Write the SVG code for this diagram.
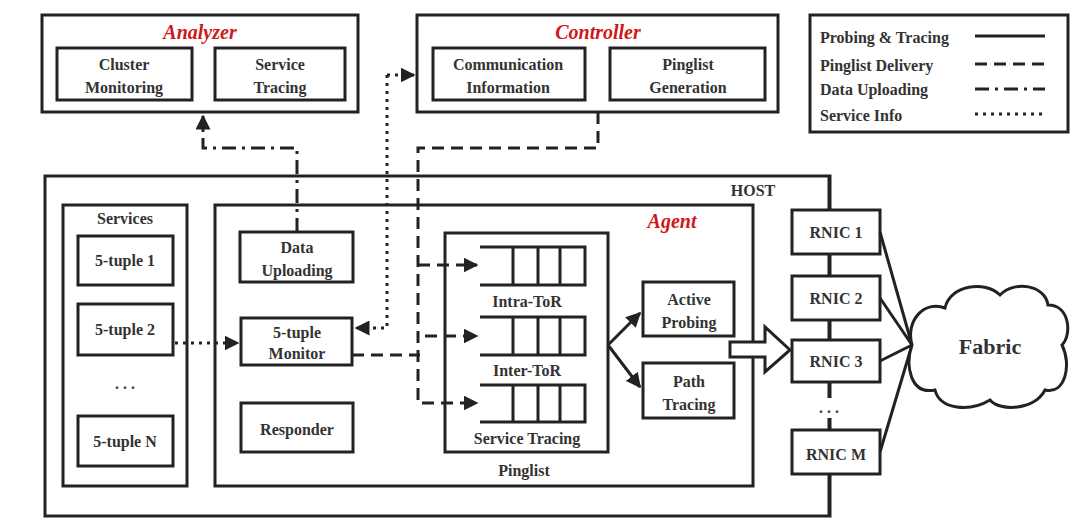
<svg xmlns="http://www.w3.org/2000/svg" width="1080" height="532" viewBox="0 0 1080 532">
<style>
text{font-family:"Liberation Serif",serif;font-weight:bold;fill:#333;text-anchor:middle;font-size:16px}
.t{fill:#d01818;font-style:italic;font-size:20px}
.b{fill:none;stroke:#222;stroke-width:3}
.w{fill:#fff}
.s{fill:none;stroke:#222;stroke-width:3}
.da{stroke-dasharray:12,7}
.dd{stroke-dasharray:14,6,3,6}
.dt{stroke-dasharray:3,5}
.lg{text-anchor:start}
</style>
<defs>
<marker id="a" viewBox="0 0 10 10" refX="9" refY="5" markerWidth="5" markerHeight="5" orient="auto"><path d="M0,0L10,5L0,10z" fill="#222"/></marker>
</defs>
<rect width="1080" height="532" fill="#fff"/>
<g id="analyzer"><rect class="b" x="42" y="15" width="316" height="97"/><text class="t" x="200" y="39">Analyzer</text>
<rect class="b" x="57" y="48" width="135" height="52"/><text x="124" y="70">Cluster</text><text x="124" y="93">Monitoring</text>
<rect class="b" x="215" y="48" width="130" height="52"/><text x="280" y="70">Service</text><text x="280" y="93">Tracing</text></g>
<g id="controller"><rect class="b" x="417" y="15" width="361" height="97"/><text class="t" x="598" y="39">Controller</text>
<rect class="b" x="433" y="48" width="152" height="52"/><text x="508" y="70">Communication</text><text x="508" y="93">Information</text>
<rect class="b" x="610" y="48" width="155" height="52"/><text x="688" y="70">Pinglist</text><text x="688" y="93">Generation</text></g>
<g id="legend"><rect class="b" x="810" y="15" width="258" height="117"/>
<text class="lg" x="820" y="43">Probing &amp; Tracing</text><text class="lg" x="820" y="71">Pinglist Delivery</text><text class="lg" x="820" y="95">Data Uploading</text><text class="lg" x="820" y="121">Service Info</text>
<line class="s" x1="975" y1="36" x2="1045" y2="36"/><line class="s da" x1="975" y1="64" x2="1045" y2="64"/><line class="s dd" x1="975" y1="89" x2="1045" y2="89"/><line class="s dt" x1="975" y1="114" x2="1045" y2="114"/></g>
<g id="host"><rect class="b" x="45" y="176" width="785" height="340"/><text x="753" y="196">HOST</text></g>
<g id="services"><rect class="b" x="63" y="205" width="124" height="281"/><text x="125" y="224">Services</text>
<rect class="b" x="78" y="236" width="95" height="49"/><text x="125" y="266">5-tuple 1</text>
<rect class="b" x="78" y="304" width="95" height="51"/><text x="125" y="335">5-tuple 2</text>
<text x="125" y="389">. . .</text>
<rect class="b" x="78" y="416" width="95" height="50"/><text x="125" y="447">5-tuple N</text></g>
<g id="agent"><rect class="b" x="215" y="205" width="538" height="281"/><text class="t" x="672" y="228">Agent</text>
<rect class="b" x="240" y="232" width="113" height="50"/><text x="297" y="253">Data</text><text x="297" y="276">Uploading</text>
<rect class="b" x="241" y="318" width="111" height="47"/><text x="297" y="338">5-tuple</text><text x="297" y="359">Monitor</text>
<rect class="b" x="241" y="403" width="112" height="49"/><text x="297" y="435">Responder</text></g>
<g id="pinglist"><rect class="b" x="445" y="233" width="163" height="219"/><text x="524" y="476">Pinglist</text>
<path class="s" d="M480,247H585V285H480M513,247V285M538,247V285M560,247V285"/><text x="527" y="307">Intra-ToR</text>
<path class="s" d="M480,317H585V355H480M513,317V355M538,317V355M560,317V355"/><text x="527" y="376">Inter-ToR</text>
<path class="s" d="M480,385H585V422H480M513,385V422M538,385V422M560,385V422"/><text x="527" y="444">Service Tracing</text></g>
<g id="active"><rect class="b" x="643" y="282" width="91" height="54"/><text x="689" y="305">Active</text><text x="689" y="328">Probing</text></g>
<g id="path"><rect class="b" x="643" y="363" width="91" height="55"/><text x="689" y="387">Path</text><text x="689" y="410">Tracing</text></g>
<g id="rnics"><line class="s" x1="829" y1="177" x2="829" y2="515"/>
<rect class="b w" x="792" y="210" width="88" height="44"/><text x="836" y="238">RNIC 1</text>
<rect class="b w" x="792" y="276" width="88" height="44"/><text x="836" y="304">RNIC 2</text>
<rect class="b w" x="792" y="340" width="88" height="42"/><text x="836" y="367">RNIC 3</text>
<rect class="w" x="812" y="398" width="34" height="20"/><text x="829" y="413">. . .</text>
<rect class="b w" x="792" y="430" width="88" height="44"/><text x="836" y="460">RNIC M</text></g>
<g id="connectors">
<path class="s dd" d="M297,232V148H203V116" marker-end="url(#a)"/>
<path class="s dt" d="M175,343H238" marker-end="url(#a)"/>
<path class="s dt" d="M387,75H414" marker-end="url(#a)"/>
<path class="s dt" d="M387,75V328H356" marker-end="url(#a)"/>
<path class="s da" d="M598,112V148H418V403H477" marker-end="url(#a)"/>
<path class="s da" d="M418,265H477" marker-end="url(#a)"/>
<path class="s da" d="M425,336H477" marker-end="url(#a)"/>
<path class="s da" d="M352,355H420"/>
<path class="s" d="M608,345L640,313" marker-end="url(#a)"/>
<path class="s" d="M608,345L640,387" marker-end="url(#a)"/>
<path class="b w" d="M730,342H765V327L790,350L765,372V357H730Z"/>
<path class="s" d="M880,232L912,345M880,298L912,345M880,361L912,345M880,452L912,345"/>
</g>
<g id="fabric"><path class="b w" d="M912,345C905,320 925,300 945,308C950,285 985,280 1000,295C1015,280 1045,285 1048,305C1070,305 1072,335 1062,345C1072,365 1065,395 1045,390C1035,410 1000,412 990,400C970,412 940,410 935,390C910,395 905,365 912,345Z"/><text x="990" y="354" style="font-size:22px">Fabric</text></g>
</svg>
